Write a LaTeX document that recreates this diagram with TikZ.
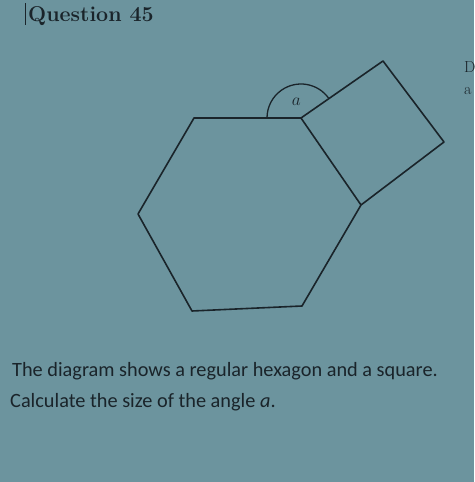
\documentclass[tikz,border=0pt]{standalone}
\usepackage{fontspec}
\newfontfamily\bodyfont{Carlito}
\usepackage{tikz}
\usetikzlibrary{positioning}
\usetikzlibrary{calc}

\definecolor{paper}{RGB}{108,148,158}
\definecolor{ink}{RGB}{26,36,42}

\begin{document}
\begin{tikzpicture}[x=1pt,y=1pt, line join=round,
	shape line/.style = {draw=ink, line width=1.6pt},
	body text/.style = {anchor=base west, inner sep=0pt, text=ink, font=\bodyfont\fontsize{20.3}{24}\selectfont}]
\useasboundingbox (0,0) rectangle (474,482);
\clip (0,0) rectangle (474,482);
\fill[paper] (0,0) rectangle (474,482);

\node[anchor=base west, inner sep=0pt, text=ink, font=\bfseries\fontsize{21.4}{25}\selectfont] (title) at (28,460) {Question 45};
\draw[ink, line width=0.8pt] (25,457) -- (25,479);

% hexagon (as printed)
\coordinate (h0) at (361,277);
\coordinate (h1) at (301,364);
\coordinate (h2) at (194,364);
\coordinate (h3) at (138,268);
\coordinate (h4) at (192,171);
\coordinate (h5) at (302,176);
\draw[shape line] (h0) -- (h1) -- (h2) -- (h3) -- (h4) -- (h5) -- cycle;

% square on the edge h1--h0
\coordinate (s2) at (383,421);
\coordinate (s3) at (444,340);
\draw[shape line] (h1) -- (s2) -- (s3) -- (h0);

% angle a
\draw[shape line, line width=1.3pt] ($(h1)+(35:34)$) arc (35:180:34);
\node[text=ink, font=\fontsize{16}{18}\selectfont] (anglea) at ($(h1)+(106:17)$) {$a$};

\node[body text] (line1) at (12,105) {The diagram shows a regular hexagon and a square.};
\node[body text] (line2) at (10,74) {Calculate the size of the angle \textit{a}.};

%\node (edge) at (470,410) {D};
\node[anchor=base west, inner sep=0pt, text=ink, font=\fontsize{16}{20}\selectfont] (nextcol1) at (464,409) {D};
\node[anchor=base west, inner sep=0pt, text=ink, font=\fontsize{16}{20}\selectfont] (nextcol2) at (464,387) {a};
\end{tikzpicture}
\end{document}
